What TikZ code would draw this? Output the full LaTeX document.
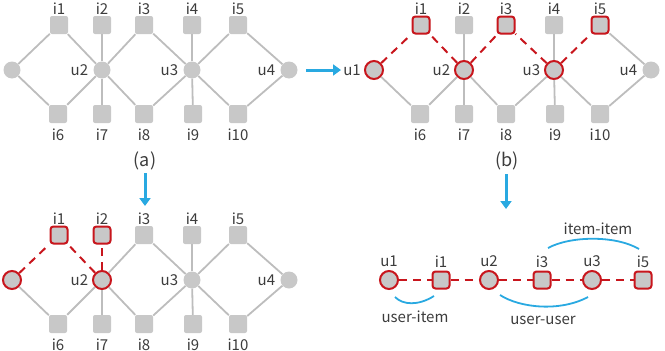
\documentclass[tikz,border=0pt]{standalone}
\usepackage{fontspec}
\setmainfont{Noto Sans CJK SC}
\usetikzlibrary{arrows.meta}
\definecolor{nodegray}{HTML}{C8C8C8}
\definecolor{edgegray}{HTML}{BDBDBD}
\definecolor{hotred}{HTML}{C8161D}
\definecolor{skyblue}{HTML}{29A9E1}
\definecolor{txt}{HTML}{3C3C3C}
\tikzset{
  usr/.style={circle, fill=nodegray, inner sep=0pt, minimum size=17pt},
  itm/.style={rectangle, rounded corners=2pt, fill=nodegray, inner sep=0pt, minimum size=18pt},
  usrhot/.style={usr, draw=hotred, line width=2pt, minimum size=18pt},
  itmhot/.style={itm, draw=hotred, line width=2pt, minimum size=17pt, rounded corners=3pt},
  link/.style={draw=edgegray, line width=1.8pt},
  hotlink/.style={draw=hotred, line width=2pt, dash pattern=on 8pt off 6pt},
  brace/.style={draw=skyblue, line width=1.8pt},
  flow/.style={draw=skyblue, line width=3pt, -{Triangle[length=8pt,width=11pt]}},
  every label/.style={text=txt, inner sep=1pt},
}
% the 4 users and 10 items of one bipartite graph
\newcommand{\basenodes}[1]{%
  \foreach \n/\x in {i1/59,i2/102,i3/144,i4/192,i5/238}
    \node[itm, label={[label distance=0pt]above:\n}] (#1\n) at (\x,25) {};
  \foreach \n/\x in {i6/58,i7/102,i8/144,i9/193,i10/238}
    \node[itm, label={[label distance=4pt]below:\n}] (#1\n) at (\x,114) {};
  \node[usr] (#1u1) at (12,70) {};
  \foreach \n/\x in {u2/102,u3/192,u4/289}
    \node[usr, label={[label distance=4pt]left:\n}] (#1\n) at (\x,70) {};
}
\begin{document}
\begin{tikzpicture}[x=1pt, y=-1pt, font=\fontsize{15}{17}\selectfont]
  \useasboundingbox (0,0) rectangle (665,351);
  % (a) full graph
  \begin{scope}
    \basenodes{a-}
    \foreach \s/\t in {u1/i1,u1/i6,u2/i1,u2/i2,u2/i3,u2/i6,u2/i7,u2/i8,
      u3/i3,u3/i4,u3/i5,u3/i8,u3/i9,u3/i10,u4/i5,u4/i10}
      \draw[link] (a-\s) -- (a-\t);
    \node[text=txt, font=\fontsize{18}{20}\selectfont] (a-tag) at (145,161) {(a)};
  \end{scope}
  % (b) random walk
  \begin{scope}[xshift=362pt]
    \basenodes{b-}
    \node[usrhot, label={[label distance=2pt]left:u1}] (b-u1) at (b-u1) {};
    \foreach \n in {u2,u3} \node[usrhot] (b-\n) at (b-\n) {};
    \foreach \n in {i1,i3,i5} \node[itmhot] (b-\n) at (b-\n) {};
    \foreach \s/\t in {u1/i6,u2/i2,u2/i6,u2/i7,u2/i8,
      u3/i4,u3/i8,u3/i9,u3/i10,u4/i5,u4/i10}
      \draw[link] (b-\s) -- (b-\t);
    \foreach \s/\t in {u1/i1,u2/i1,u2/i3,u3/i3,u3/i5}
      \draw[hotlink] (b-\s) -- (b-\t);
    \node[text=txt, font=\fontsize{18}{20}\selectfont] (b-tag) at (145,161) {(b)};
  \end{scope}
  % (c) neighbourhood of u1
  \begin{scope}[shift={(0,210)}]
    \basenodes{c-}
    \foreach \n in {u1,u2} \node[usrhot] (c-\n) at (c-\n) {};
    \foreach \n in {i1,i2} \node[itmhot] (c-\n) at (c-\n) {};
    \foreach \s/\t in {u1/i6,u2/i3,u2/i6,u2/i7,u2/i8,
      u3/i3,u3/i4,u3/i5,u3/i8,u3/i9,u3/i10,u4/i5,u4/i10}
      \draw[link] (c-\s) -- (c-\t);
    \foreach \s/\t in {u1/i1,u2/i1,u2/i2}
      \draw[hotlink] (c-\s) -- (c-\t);
  \end{scope}
  % (d) walk as a sequence
  \foreach \n/\x/\s in {u1/389/usrhot,i1/441/itmhot,u2/489/usrhot,
    i3/542/itmhot,u3/592/usrhot,i5/643/itmhot}
    \node[\s, label={[label distance=2pt]above:\n}] (d-\n) at (\x,280) {};
  \foreach \s/\t in {u1/i1,i1/u2,u2/i3,i3/u3,u3/i5}
    \draw[hotlink] (d-\s) -- (d-\t);
  \draw[brace] (395,297) .. controls (403,305) and (418,306) .. (434,296);
  \node[text=txt] (ui-tag) at (415,317) {user-item};
  \draw[brace] (500,295) .. controls (520,308) and (560,312) .. (588,297);
  \node[text=txt] (uu-tag) at (543,320) {user-user};
  \draw[brace] (548,248) .. controls (570,236) and (615,235) .. (639,249);
  \node[text=txt] (ii-tag) at (598,229) {item-item};
  % arrows between panels
  \coordinate (ab0) at (306,70);  \coordinate (ab1) at (341,70);
  \coordinate (ac0) at (145,173); \coordinate (ac1) at (145,206);
  \coordinate (bd0) at (506,174); \coordinate (bd1) at (506,209);
  \draw[flow] (ab0) -- (ab1);
  \draw[flow] (ac0) -- (ac1);
  \draw[flow] (bd0) -- (bd1);
\end{tikzpicture}
\end{document}
